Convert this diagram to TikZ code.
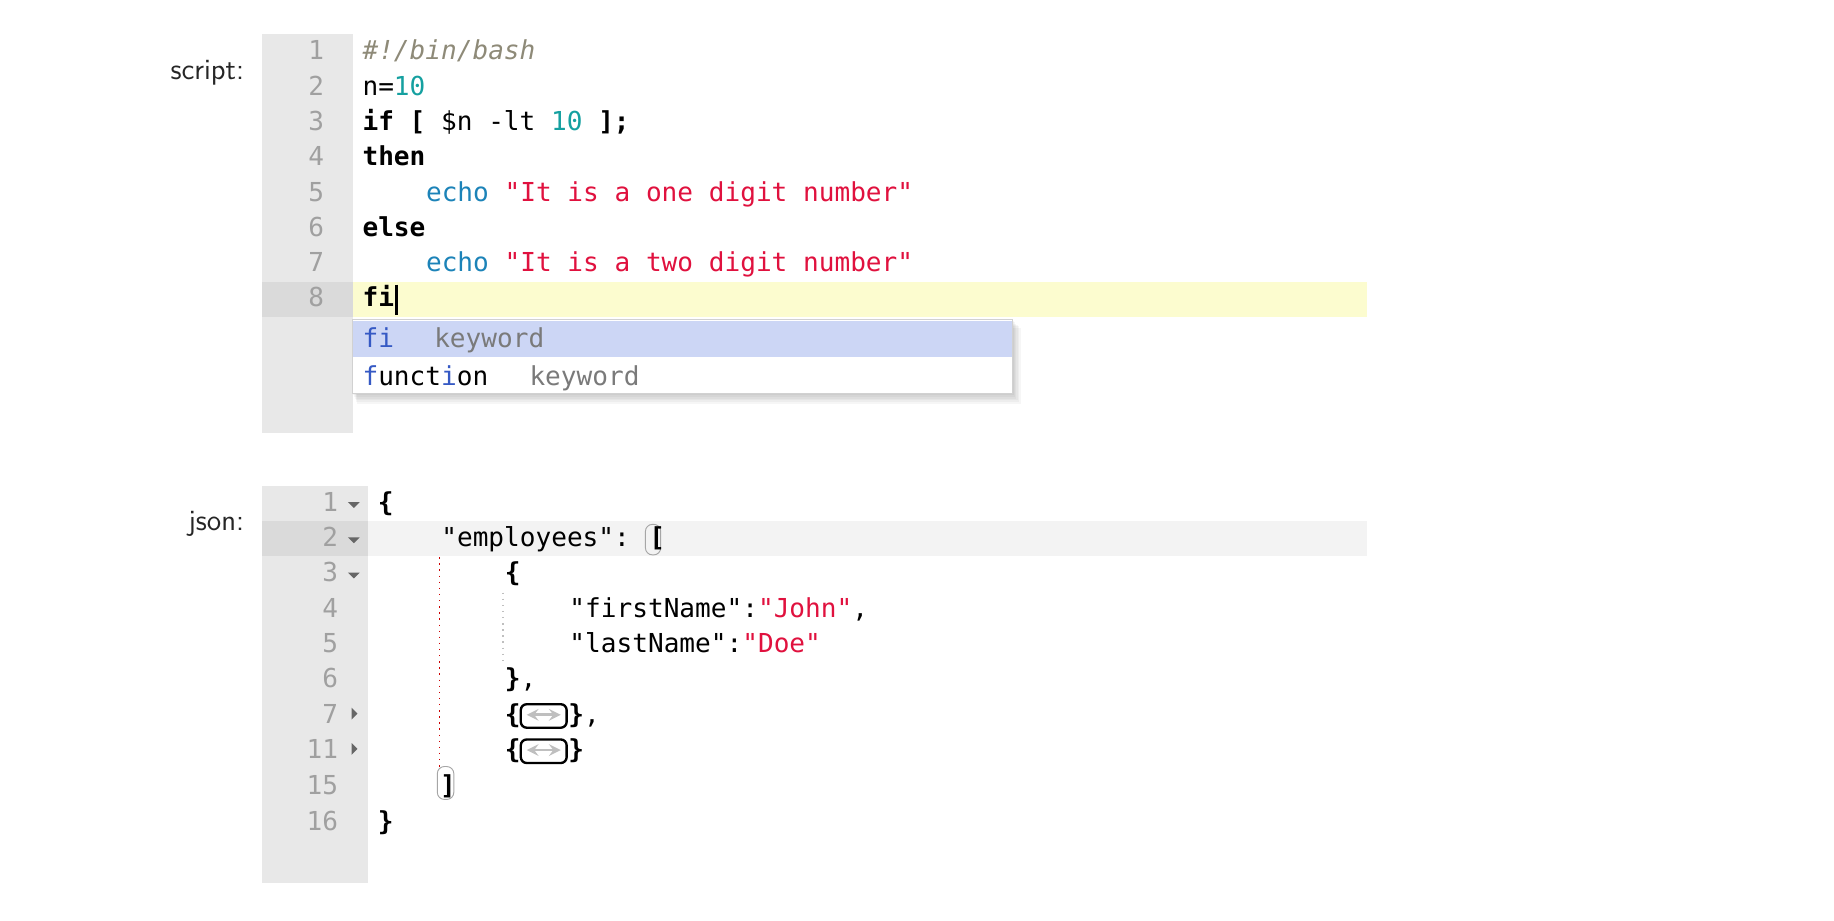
\documentclass[tikz,border=0pt]{standalone}
\usepackage{fontspec}
\setmainfont{Liberation Sans}
\setmonofont{DejaVu Sans Mono}
\definecolor{gut}{HTML}{E8E8E8}
\definecolor{gutact}{HTML}{DADADA}
\definecolor{lnum}{HTML}{A0A0A0}
\definecolor{yel}{HTML}{FCFCCF}
\definecolor{jact}{HTML}{F3F3F3}
\definecolor{cmt}{HTML}{8E8A78}
\definecolor{num}{HTML}{15A0A0}
\definecolor{bltn}{HTML}{1C83B8}
\definecolor{str}{HTML}{E0113E}
\definecolor{popsel}{HTML}{CCD6F5}
\definecolor{popblue}{HTML}{3559C4}
\definecolor{popgray}{HTML}{7A7A7A}
\begin{document}
\begin{tikzpicture}[x=0.5pt,y=-0.5pt,
  code/.style={anchor=base west,inner sep=0pt,font=\fontsize{11.1}{13}\ttfamily},
  ln/.style={anchor=base east,inner sep=0pt,font=\fontsize{11.1}{13}\ttfamily,text=lnum},
  lab/.style={anchor=base east,inner sep=0pt,font=\fontsize{12.5}{14}\sffamily,text=black!85},
  fold/.style={fill=black!60},
  widget/.style={draw=black,line width=1pt,rounded corners=2.5pt}]
\useasboundingbox (0,0) rectangle (1560,782.6);
% ---------- script editor ----------
\fill[gut] (223,29) rectangle (300,368);
\fill[gutact] (223,240) rectangle (300,270);
\fill[yel] (300,240) rectangle (1163,270);
\node[lab] (lscript) at (208,68) {script:};
\foreach \i/\y in {1/51,2/81,3/111,4/141,5/171,6/201,7/231,8/261}
  \node[ln] (sn\i) at (276,\y) {\i};
\node[code,text=cmt] (s1) at (308,51) {\itshape \#!/bin/bash};
\node[code] (s2) at (308,81) {n=\textcolor{num}{10}};
\node[code] (s3) at (308,111) {\textbf{if [} \$n -lt \textcolor{num}{10} \textbf{];}};
\node[code] (s4) at (308,141) {\textbf{then}};
\node[code] (s5) at (362,171) {\textcolor{bltn}{echo} \textcolor{str}{"It is a one digit number"}};
\node[code] (s6) at (308,201) {\textbf{else}};
\node[code] (s7) at (362,231) {\textcolor{bltn}{echo} \textcolor{str}{"It is a two digit number"}};
\node[code] (s8) at (308,261) {\textbf{fi}};
\draw[line width=1.3pt] (337,242) -- (337,268);
% popup
\foreach \k in {1,...,6}
  \fill[black,opacity=0.035] (300+\k*0.6,272+\k*1.1) rectangle (861+\k*1.2,335+\k*1.4);
\fill[white] (300,272) rectangle (861,335);
\fill[popsel] (300,273) rectangle (861,304);
\draw[black!18] (300,272) rectangle (861,335);
\node[code,text=popblue] (p1) at (308,296) {fi};
\node[code,text=popgray] (p1k) at (369,296) {keyword};
\node[code] (p2) at (308,328) {\textcolor{popblue}{f}unct\textcolor{popblue}{i}on};
\node[code,text=popgray] (p2k) at (450,328) {keyword};
% ---------- json editor ----------
\fill[gut] (223,413) rectangle (313,751);
\fill[gutact] (223,443) rectangle (313,473);
\fill[jact] (313,443) rectangle (1163,473);
\node[lab] (ljson) at (208,451) {json:};
\foreach \i/\n/\y in {1/1/435,2/2/465,3/3/495,4/4/525,5/5/555,6/6/585,7/7/615,8/11/645,9/15/676,10/16/706}
  \node[ln] (jn\i) at (288,\y) {\n};
\foreach \y in {427,457,487}
  \fill[fold] (296,\y) -- (306,\y) -- (301,\y+5) -- cycle;
\foreach \y in {607,637}
  \fill[fold] (299,\y-5) -- (304,\y) -- (299,\y+5) -- cycle;
\draw[red!80!black,dotted,line width=0.6pt] (374,474) -- (374,655);
\draw[black!25,dotted,line width=0.6pt] (428,504) -- (428,563);
\node[code] (j1) at (321,435) {\textbf{\{}};
\node[code] (j2) at (375,465) {"employees": };
\draw[black!35,rounded corners=3pt] (549,446) rectangle (562,472);
\node[code] (j2b) at (552,465) {\textbf{[}};
\node[code] (j3) at (429,495) {\textbf{\{}};
\node[code] (j4) at (484,525) {"firstName":\textcolor{str}{"John"},};
\node[code] (j5) at (484,555) {"lastName":\textcolor{str}{"Doe"}};
\node[code] (j6) at (429,585) {\textbf{\}},};
\foreach \y/\t in {615/{\textbf{\}},},645/{\textbf{\}}}}{
  \node[code] at (429,\y) {\textbf{\{}};
  \draw[widget] (443,599) ++(0,\y-615) rectangle ++(39,20);
  \draw[black!25,line width=1.2pt,<->,>=stealth] (448,\y-7) -- (477,\y-7);
  \node[code] at (483,\y) {\t};
}
\draw[black!35,rounded corners=3pt] (372,652) rectangle (386,680);
\node[code] (j15) at (374,676) {\textbf{]}};
\node[code] (j16) at (321,706) {\textbf{\}}};
\end{tikzpicture}
\end{document}
